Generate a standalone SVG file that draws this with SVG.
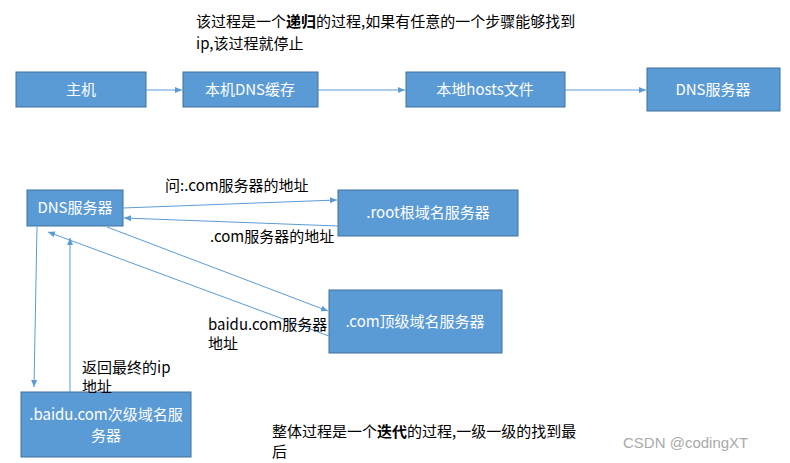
<svg xmlns="http://www.w3.org/2000/svg" width="790" height="463" viewBox="0 0 790 463">
<style>
.n{fill:#5b9bd5;stroke:#41719c;stroke-width:1}
.t{font-family:"Noto Sans CJK SC","Liberation Sans",sans-serif;font-size:15px;fill:#fff;text-anchor:middle}
.l{font-family:"Noto Sans CJK SC","Liberation Sans",sans-serif;font-size:15px;fill:#000}
.c line{stroke:#5b9bd5;stroke-width:1;marker-end:url(#a)}
</style>
<defs><marker id="a" markerWidth="8" markerHeight="8" refX="7" refY="4" orient="auto" markerUnits="userSpaceOnUse"><path d="M0,1 L7,4 L0,7z" fill="#5b9bd5"/></marker></defs>
<rect width="790" height="463" fill="#fff"/>
<text class="l" x="196" y="27">该过程是一个<tspan font-weight="bold">递归</tspan>的过程,如果有任意的一个步骤能够找到</text>
<text class="l" x="196" y="49">ip,该过程就停止</text>
<g id="host"><rect class="n" x="16" y="72" width="130" height="35"/><text class="t" x="81" y="95">主机</text></g>
<g id="cache"><rect class="n" x="183" y="72" width="135" height="35"/><text class="t" x="250" y="95">本机DNS缓存</text></g>
<g id="hosts"><rect class="n" x="406" y="72" width="159" height="35"/><text class="t" x="485" y="95">本地hosts文件</text></g>
<g id="dns1"><rect class="n" x="647" y="68" width="133" height="43"/><text class="t" x="713" y="95">DNS服务器</text></g>
<g id="dns2"><rect class="n" x="27" y="190" width="96" height="36"/><text class="t" x="75" y="213">DNS服务器</text></g>
<g id="root"><rect class="n" x="338" y="190" width="180" height="46"/><text class="t" x="428" y="218">.root根域名服务器</text></g>
<g id="com"><rect class="n" x="329" y="290" width="173" height="63"/><text class="t" x="415" y="327">.com顶级域名服务器</text></g>
<g id="baidu"><rect class="n" x="21" y="392" width="170" height="65"/><text class="t" x="106" y="420">.baidu.com次级域名服</text><text class="t" x="106" y="441">务器</text></g>
<g class="c">
<line x1="146" y1="90" x2="182" y2="90"/>
<line x1="318" y1="90" x2="405" y2="90"/>
<line x1="565" y1="90" x2="646" y2="90"/>
<line x1="123" y1="208" x2="337" y2="200"/>
<line x1="338" y1="226" x2="124" y2="218"/>
<line x1="107" y1="227" x2="328" y2="311"/>
<line x1="329" y1="336" x2="48" y2="232"/>
<line x1="37" y1="227" x2="34" y2="387"/>
<line x1="70" y1="392" x2="70" y2="238"/>
</g>
<text class="l" x="165" y="191">问:.com服务器的地址</text>
<text class="l" x="210" y="242">.com服务器的地址</text>
<text class="l" x="208" y="330">baidu.com服务器</text>
<text class="l" x="208" y="349">地址</text>
<text class="l" x="82" y="373">返回最终的ip</text>
<text class="l" x="82" y="392">地址</text>
<text class="l" x="272" y="437">整体过程是一个<tspan font-weight="bold">迭代</tspan>的过程,一级一级的找到最</text>
<text class="l" x="272" y="457">后</text>
<text x="623" y="448" font-family="Liberation Sans,sans-serif" font-size="15" fill="#aaa">CSDN @codingXT</text>
</svg>
